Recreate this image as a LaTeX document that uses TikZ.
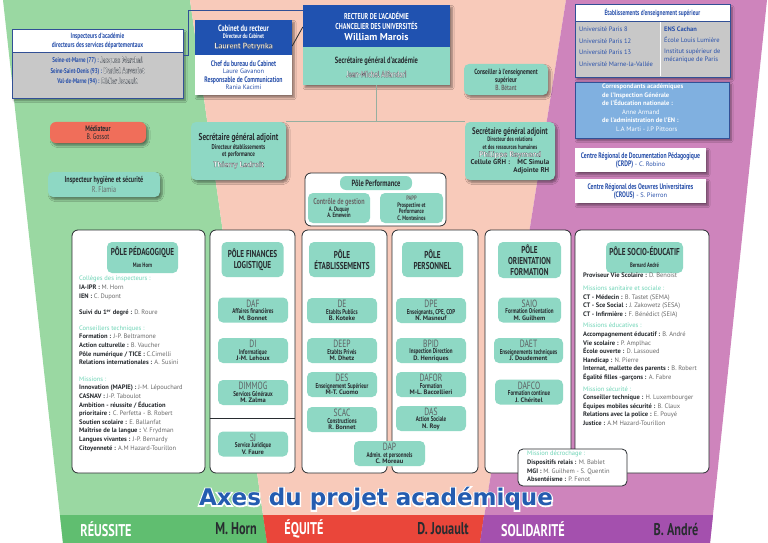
\documentclass[tikz,border=0pt]{standalone}
\usepackage{fontspec}
\setmainfont{PT Sans}
\newfontfamily\condfont{PT Sans}[FakeStretch=0.72]
\newfontfamily\axesfont{DejaVu Sans}
\usetikzlibrary{shadows.blur}

\definecolor{bggreen}{RGB}{154,216,162}
\definecolor{bgsalmon}{RGB}{248,202,186}
\definecolor{bgpink}{RGB}{206,132,188}
\definecolor{bargreen}{RGB}{96,190,112}
\definecolor{barred}{RGB}{234,70,58}
\definecolor{barpurple}{RGB}{164,80,174}
\definecolor{tealbox}{RGB}{142,216,196}
\definecolor{tealtitle}{RGB}{110,212,182}
\definecolor{inkdark}{RGB}{40,44,48}
\definecolor{inkgray}{RGB}{105,105,105}
\definecolor{recblue}{RGB}{32,82,176}
\definecolor{txtblue}{RGB}{40,80,170}
\definecolor{boxgray}{RGB}{200,200,200}
\definecolor{corrblue}{RGB}{128,176,224}
\definecolor{edgeblue}{RGB}{50,80,150}
\definecolor{axesblue}{RGB}{36,92,176}
\definecolor{linkgray}{RGB}{150,175,160}
\definecolor{mediared}{RGB}{240,110,90}

\newcommand{\lbl}[1]{\textbf{\textcolor{inkdark}{#1}}}
\newcommand{\rubr}[1]{\textcolor{tealtitle}{#1}}
% white letters with a dark outline (text render mode 2)
\newcommand{\outname}[1]{\textcolor{white}{\special{pdf:literal direct 0.25 0.27 0.3 RG 0.18 w 2 Tr}#1\special{pdf:literal direct 0 Tr}}}
\newcommand{\outwhite}[1]{{\special{pdf:literal direct 1 1 1 RG 2.5 w 2 Tr}#1\special{pdf:literal direct 0 Tr}}}
\newcommand{\serv}[3]{{\condfont\fontsize{10.5}{10}\selectfont\color{inkdark!75}#1}\\{\condfont\bfseries\fontsize{7}{7}\selectfont #2}\\{\bfseries\fontsize{6.5}{7}\selectfont #3}}

\tikzset{
  tbox/.style={fill=tealbox, rounded corners=5pt, inner sep=1pt, align=center, text=inkdark},
  pole/.style={tbox, font=\condfont\bfseries\fontsize{10}{11}\selectfont},
  service/.style={tbox, minimum height=25, font=\fontsize{6}{6.5}\selectfont},
  colbox/.style={draw=inkdark, fill=white, rounded corners=6pt, line width=0.8pt},
  shadowed/.style={blur shadow={shadow xshift=2pt, shadow yshift=-2.5pt, shadow blur steps=6, shadow opacity=45}},
  txt/.style={align=left, anchor=north west, inner sep=0pt, font=\fontsize{6.5}{8.6}\selectfont, text=inkgray},
  lien/.style={draw=linkgray, line width=0.8pt},
  bartxt/.style={font=\condfont\bfseries\fontsize{17}{17}\selectfont, text=inkdark}
}

\begin{document}
\begin{tikzpicture}[x=1pt,y=-1pt]
\useasboundingbox (0,0) rectangle (768,543);
% background
\fill[bggreen] (3,0) -- (190,0) -- (267,543) -- (63,543) -- cycle;
\fill[bgsalmon] (190,0) -- (566,0) -- (480,543) -- (267,543) -- cycle;
\fill[bgpink] (566,0) -- (767,0) -- (710,543) -- (480,543) -- cycle;
% bars
\fill[bargreen] (60,515) -- (263,515) -- (267,543) -- (63,543) -- cycle;
\fill[barred] (263,515) -- (484,515) -- (480,543) -- (267,543) -- cycle;
\fill[barpurple] (484,515) -- (713,515) -- (710,543) -- (480,543) -- cycle;
\node[bartxt, text=white] (reu) at (106,529) {RÉUSSITE};
\node[bartxt] (horn) at (236,529) {M. Horn};
\node[bartxt, text=white] (equ) at (304,529) {ÉQUITÉ};
\node[bartxt] (jou) at (443,529) {D. Jouault};
\node[bartxt, text=white] (sol) at (533,529) {SOLIDARITÉ};
\node[bartxt] (andre) at (676,529) {B. André};
\node[font=\axesfont\bfseries\fontsize{23}{23}\selectfont, text=axesblue] (axes) at (376,499) {\outwhite{Axes du projet académique}};
\node[font=\axesfont\bfseries\fontsize{23}{23}\selectfont, text=axesblue] (axes2) at (376,499) {Axes du projet académique};

% inspecteurs
\node[shadowed, draw=edgeblue, fill=boxgray, line width=1pt, minimum width=171, minimum height=68] (insp) at (97.5,64) {};
\node[fill=white, draw=edgeblue, line width=1pt, minimum width=171, minimum height=22, align=center, font=\condfont\bfseries\fontsize{7.5}{9}\selectfont, text=txtblue] (insph) at (97.5,41) {Inspecteurs d'académie\\directeurs des services départementaux};
\node[align=center, font=\condfont\bfseries\fontsize{7}{10.5}\selectfont, text=txtblue] (inspt) at (97.5,71) {Seine-et-Marne (77) : {\fontsize{8.5}{10}\selectfont\outname{Jacques Marchal}}\\Seine-Saint-Denis (93) : {\fontsize{8.5}{10}\selectfont\outname{Daniel Auverlot}}\\Val-de-Marne (94) : {\fontsize{8.5}{10}\selectfont\outname{Didier Jouault}}};

% cabinet
\node[shadowed, fill=white, minimum width=97, minimum height=75] (cab) at (243.5,57.5) {};
\node[fill=recblue, minimum width=97, minimum height=35, text=white, align=center, font=\fontsize{6}{7}\selectfont] (cabh) at (243.5,37.5) {{\condfont\bfseries\fontsize{9}{9}\selectfont Cabinet du recteur}\\{\condfont\bfseries\fontsize{6.5}{7}\selectfont Directeur du Cabinet}\\[3pt]{\bfseries\fontsize{8}{9}\selectfont\outname{Laurent Petrynka}}};
\node[align=center, text=txtblue, font=\fontsize{6.5}{7}\selectfont] (cabt) at (243.5,75) {{\condfont\bfseries\fontsize{8}{8}\selectfont Chef du bureau du Cabinet}\\Laure Gavanon\\[2pt]{\condfont\bfseries\fontsize{8}{8}\selectfont Responsable de Communication}\\Rania Kacimi};

% recteur
\node[shadowed, fill=tealbox, minimum width=147, minimum height=80] (recteur) at (376.5,45) {};
\node[fill=recblue, minimum width=147, minimum height=42, text=white, align=center, font=\fontsize{8}{10.5}\selectfont] (recth) at (376.5,26) {{\condfont\bfseries\fontsize{8.5}{10.5}\selectfont RECTEUR DE L'ACADÉMIE}\\{\condfont\bfseries\fontsize{8.5}{10.5}\selectfont CHANCELIER DES UNIVERSITÉS}\\{\bfseries\fontsize{10}{12}\selectfont William Marois}};
\node[align=center, font=\condfont\bfseries\fontsize{9}{14}\selectfont, text=inkdark] (rectt) at (376.5,67) {Secrétaire général d'académie\\\outname{Jean-Michel Alfandari}};

% lines
\draw[edgeblue, line width=0.8pt] (insp.east |- 0,55) -| (188,10) -- (recteur.west |- 0,10);
\draw[inkdark, line width=0.8pt] (cab.east |- 0,46) -- (recteur.west |- 0,27);

% conseiller, mediateur, hygiene
\node[shadowed, tbox, minimum width=84, minimum height=31, font=\condfont\bfseries\fontsize{7.5}{8}\selectfont] (cons) at (506,79.5) {Conseiller à l'enseignement\\supérieur\\\textcolor{inkgray}{B. Bétant}};
\node[shadowed, fill=mediared, rounded corners=6pt, minimum width=96, minimum height=21, align=center, text=inkdark, font=\condfont\fontsize{8}{8.5}\selectfont] (med) at (98,132.5) {\textbf{Médiateur}\\B. Gossot};
\node[shadowed, tbox, minimum width=112, minimum height=25, font=\condfont\fontsize{8.5}{9.5}\selectfont] (hyg) at (104,184.5) {\textbf{Inspecteur hygiène et sécurité}\\\textcolor{inkgray}{R. Flamia}};

% secretaires generaux adjoints
\node[shadowed, tbox, minimum width=95, minimum height=58, font=\fontsize{6}{7.5}\selectfont] (sgal) at (238.5,151) {{\condfont\bfseries\fontsize{10}{10}\selectfont Secrétaire général adjoint}\\[1pt]{\condfont\bfseries\fontsize{7}{7}\selectfont Directeur établissements}\\{\condfont\bfseries\fontsize{7}{7}\selectfont et performance}\\[3pt]{\bfseries\fontsize{8}{9}\selectfont\outname{Thierry Ledroit}}};
\node[shadowed, tbox, minimum width=90, minimum height=58, font=\fontsize{6}{7.5}\selectfont] (sgar) at (510,151) {{\condfont\bfseries\fontsize{9.5}{9}\selectfont Secrétaire général adjoint}\\{\condfont\bfseries\fontsize{6.5}{7}\selectfont Directeur des relations}\\{\condfont\bfseries\fontsize{6.5}{7}\selectfont et des ressources humaines}\\{\bfseries\fontsize{8}{8}\selectfont\outname{Philippe Reymond}}\\[-1pt]{\bfseries\fontsize{7}{8}\selectfont\begin{tabular}{@{}l@{\ \ }r@{}}Cellule GRH :&MC Simula\\&Adjointe RH\end{tabular}}};
\draw[lien] (recteur.south) -- (recteur.south |- sgal.north);
\draw[lien] (sgal.north east) -- (sgar.north west);

% pole performance
\node[colbox, minimum width=141, minimum height=53] (perf) at (375.5,199.5) {};
\node[tbox, rounded corners=6pt, minimum width=72, minimum height=14, font=\condfont\bfseries\fontsize{9}{9}\selectfont] (perft) at (376,183) {Pôle Performance};
\node[tbox, minimum width=62, minimum height=30, font=\condfont\bfseries\fontsize{6.5}{6.5}\selectfont] (cg) at (339,208) {{\fontsize{8.5}{8}\selectfont\textcolor{inkgray}{Contrôle de gestion}}\\A. Duquay\\A. Emewein};
\node[tbox, minimum width=63, minimum height=30, font=\condfont\bfseries\fontsize{6.5}{6.5}\selectfont] (papp) at (411.5,208) {\textcolor{inkgray}{PAPP}\\Prospective et\\Performance\\C. Montesinos};

% etablissements superieurs
\node[shadowed, draw=edgeblue, fill=boxgray, line width=1pt, minimum width=155, minimum height=72] (etab) at (652.5,41) {};
\node[fill=white, draw=edgeblue, line width=1pt, minimum width=155, minimum height=17, font=\condfont\bfseries\fontsize{7.5}{8}\selectfont, text=txtblue] (etabh) at (652.5,13.5) {Établissements d'enseignement supérieur};
\draw[white, line width=1pt] (660,22) -- (660,76);
\node[txt, text=txtblue, font=\fontsize{6.5}{11.5}\selectfont] (etabg) at (579,27) {Université Paris 8\\Université Paris 12\\Université Paris 13\\Université Marne-la-Vallée};
\node[txt, text=txtblue, font=\fontsize{6.5}{11}\selectfont] (etabd) at (664,27) {\textbf{ENS Cachan}\\École Louis Lumière\\Institut supérieur de\\[-3pt]mécanique de Paris};

% correspondants
\node[shadowed, draw=edgeblue, fill=corrblue, line width=1pt, minimum width=154, minimum height=56] (corr) at (652,110) {};
\node[txt, text=white, font=\bfseries\fontsize{6.5}{8.5}\selectfont] (corrt) at (602,84) {Correspondants académiques\\de l'Inspection Générale\\de l'Éducation nationale :\\\hspace*{20pt}\textmd{Anne Armand}\\de l'administration de l'EN :\\\hspace*{14pt}\textmd{L.A Marti - J.P Pittoors}};

% crdp crous
\node[shadowed, fill=white, minimum width=131, minimum height=24, align=center, text=txtblue, font=\fontsize{6.5}{8}\selectfont] (crdp) at (640.5,160) {{\condfont\bfseries\fontsize{8}{8}\selectfont Centre Régional de Documentation Pédagogique}\\{\condfont\bfseries\fontsize{8}{8}\selectfont (CRDP)} - C. Robino};
\node[shadowed, fill=white, minimum width=131, minimum height=24, align=center, text=txtblue, font=\fontsize{6.5}{8}\selectfont] (crous) at (640.5,191) {{\condfont\bfseries\fontsize{8}{8}\selectfont Centre Régional des Oeuvres Universitaires}\\{\condfont\bfseries\fontsize{8}{8}\selectfont (CROUS)} - S. Pierron};

% columns
\node[colbox, minimum width=133, minimum height=243] (colped) at (138.5,351.5) {};
\node[colbox, minimum width=85, minimum height=243] (colfin) at (252.5,351.5) {};
\node[colbox, minimum width=85, minimum height=243] (coletab) at (344.5,351.5) {};
\node[colbox, minimum width=86, minimum height=243] (colpers) at (435,351.5) {};
\node[colbox, minimum width=86, minimum height=243] (colori) at (528,351.5) {};
\node[colbox, minimum width=134, minimum height=243] (colsoc) at (642,351.5) {};
\draw[inkdark, line width=0.8pt] (colfin.west |- 0,418) -- (colfin.east |- 0,418);

% pole pedagogique
\node[pole, minimum width=71, minimum height=31] (pped) at (142.5,257.5) {PÔLE PÉDAGOGIQUE\\[1pt]{\fontsize{6.5}{6}\selectfont Max Horn}};
\node[txt] (pedt) at (79,276) {\rubr{Collèges des inspecteurs :}\\
\lbl{IA-IPR :} M. Horn\\
\lbl{IEN :} C. Dupont\\[8pt]
\lbl{Suivi du 1\textsuperscript{er} degré :} D. Roure\\[7pt]
\rubr{Conseillers techniques :}\\
\lbl{Formation :} J-P. Beltramone\\
\lbl{Action culturelle :} B. Vaucher\\
\lbl{Pôle numérique / TICE :} C.Cimelli\\
\lbl{Relations internationales :} A. Susini\\[8pt]
\rubr{Missions :}\\
\lbl{Innovation (MAPIE) :} J-M. Lépouchard\\
\lbl{CASNAV :} J-P. Taboulot\\
\lbl{Ambition - réussite / Éducation}\\
\lbl{prioritaire :} C. Perfetta - B. Robert\\
\lbl{Soutien scolaire :} E. Ballanfat\\
\lbl{Maîtrise de la langue :} V. Frydman\\
\lbl{Langues vivantes :} J-P. Bernardy\\
\lbl{Citoyenneté :} A.M Hazard-Tourillon};

% pole finances
\node[pole, minimum width=62, minimum height=35] (pfin) at (252.5,259.5) {PÔLE FINANCES\\LOGISTIQUE};
\node[service, minimum width=70] (daf) at (253,310) {\serv{DAF}{Affaires financières}{M. Bonnet}};
\node[service, minimum width=70] (di) at (253,350.5) {\serv{DI}{Informatique}{J-M. Lehoux}};
\node[service, minimum width=70] (dimmog) at (253,392.5) {\serv{DIMMOG}{Services Généraux}{M. Zalma}};
\node[service, minimum width=70] (sj) at (253,444) {\serv{SJ}{Service Juridique}{V. Faure}};

% pole etablissements
\node[pole, minimum width=66, minimum height=35] (petab) at (342,259.5) {PÔLE\\ÉTABLISSEMENTS};
\node[service, minimum width=70] (de) at (342,310.5) {\serv{DE}{Etablts Publics}{B. Koteke}};
\node[service, minimum width=70] (deep) at (342,350.5) {\serv{DEEP}{Etablts Privés}{M. Dhetz}};
\node[service, minimum width=70] (des) at (342,384.5) {\serv{DES}{Enseignement Supérieur}{M-T. Cuomo}};
\node[service, minimum width=70] (scac) at (342,419.5) {\serv{SCAC}{Constructions}{R. Bonnet}};

% pole personnel
\node[pole, minimum width=61, minimum height=35] (ppers) at (432.5,259.5) {PÔLE\\PERSONNEL};
\node[service, minimum width=70] (dpe) at (431,310.5) {\serv{DPE}{Enseignants, CPE, COP}{N. Masneuf}};
\node[service, minimum width=70] (bpid) at (431,350.5) {\serv{BPID}{Inspection Direction}{D. Henriques}};
\node[service, minimum width=70] (dafor) at (431,384.5) {\serv{DAFOR}{Formation}{M-L. Baccellieri}};
\node[service, minimum width=70] (das) at (431,418.5) {\serv{DAS}{Action Sociale}{N. Roy}};
\node[service, minimum width=71] (dap) at (389.5,453.5) {\serv{DAP}{Admin. et personnels}{C. Moreau}};

% pole orientation
\node[pole, minimum width=63, minimum height=36] (pori) at (529.5,260) {PÔLE\\ORIENTATION\\FORMATION};
\node[service, minimum width=63] (saio) at (529.5,310) {\serv{SAIO}{Formation Orientation}{M. Guilhem}};
\node[service, minimum width=69] (daet) at (528.5,350.5) {\serv{DAET}{Enseignements techniques}{J. Doudement}};
\node[service, minimum width=68] (dafco) at (529,392) {\serv{DAFCO}{Formation continue}{J. Chéritel}};

% pole socio-educatif
\node[pole, minimum width=77, minimum height=31] (psoc) at (644.5,257.5) {PÔLE SOCIO-ÉDUCATIF\\[1pt]{\fontsize{6.5}{6}\selectfont Bernard André}};
\node[txt] (soct) at (583,273) {\lbl{Proviseur Vie Scolaire :} D. Benoist\\[4pt]
\rubr{Missions sanitaire et sociale :}\\
\lbl{CT - Médecin :} B. Tastet (SEMA)\\
\lbl{CT - Sce Social :} J. Zakowetz (SESA)\\
\lbl{CT - Infirmière :} F. Bénédict (SEIA)\\[3pt]
\rubr{Missions éducatives :}\\
\lbl{Accompagnement éducatif :} B. André\\
\lbl{Vie scolaire :} P. Amplhac\\
\lbl{École ouverte :} D. Lassoued\\
\lbl{Handicap :} N. Pierre\\
\lbl{Internat, mallette des parents :} B. Robert\\
\lbl{Égalité filles -garçons :} A. Fabre\\[3pt]
\rubr{Mission sécurité :}\\
\lbl{Conseiller technique :} H. Luxembourger\\
\lbl{Équipes mobiles sécurité :} B. Claux\\
\lbl{Relations avec la police :} E. Pouyé\\
\lbl{Justice :} A.M Hazard-Tourillon};

% decrochage
\node[colbox, rounded corners=5pt, minimum width=109, minimum height=37] (decro) at (572.5,467.5) {};
\node[txt] (decrot) at (527,451) {\rubr{Mission décrochage :}\\
\lbl{Dispositifs relais :} M. Bablet\\
\lbl{MGI :} M. Guilhem - S. Quentin\\
\lbl{Absentéisme :} P. Fenot};
\end{tikzpicture}
\end{document}
